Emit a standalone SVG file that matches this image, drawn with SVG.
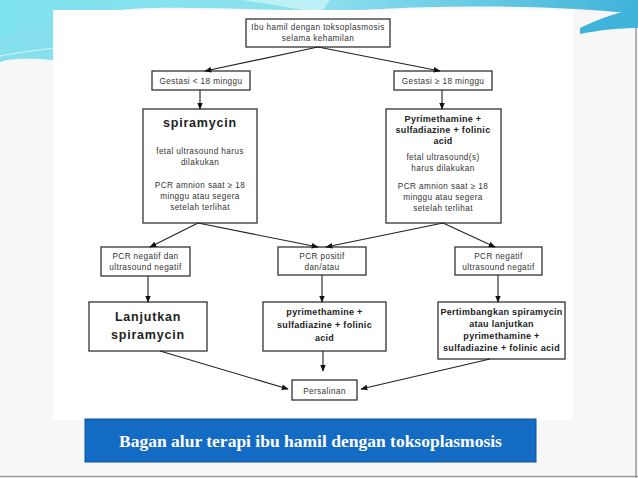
<svg xmlns="http://www.w3.org/2000/svg" width="638" height="478" viewBox="0 0 638 478">
<defs>
<linearGradient id="sw" x1="0" y1="0" x2="1" y2="0">
<stop offset="0" stop-color="#7fe3ef"/>
<stop offset="0.5" stop-color="#8ee0ee"/>
<stop offset="1" stop-color="#3fb3d9"/>
</linearGradient>
<marker id="ah" viewBox="0 0 10 10" refX="9" refY="5" markerWidth="7" markerHeight="7" orient="auto-start-reverse" markerUnits="userSpaceOnUse">
<path d="M0,1 L10,5 L0,9 z" fill="#111"/>
</marker>
<style>
.box{fill:#fff;stroke:#333;stroke-width:1.3}
.t{font-family:"Liberation Sans",Arial,sans-serif;font-size:8.2px;fill:#333;text-anchor:middle;letter-spacing:0.4px}
.b{font-family:"Liberation Sans",Arial,sans-serif;font-size:9px;font-weight:bold;fill:#222;text-anchor:middle;letter-spacing:0.3px}
.bb{font-family:"Liberation Sans",Arial,sans-serif;font-size:12.5px;font-weight:bold;fill:#222;text-anchor:middle;letter-spacing:0.8px}
.c line{stroke:#222;stroke-width:1.1;fill:none;marker-end:url(#ah)}
</style>
</defs>
<rect width="638" height="478" fill="#f7f7f7"/>
<line x1="636" y1="0" x2="636" y2="478" stroke="#9a9a9a" stroke-width="1.5"/>
<line x1="0" y1="476.5" x2="638" y2="476.5" stroke="#9a9a9a" stroke-width="1.5"/>
<path d="M0,0 H638 V14 C560,6 470,4 360,10 C300,13 220,6 150,8 C90,10 40,25 0,40 Z" fill="url(#sw)"/>
<path d="M240,0 C270,4 295,8 320,14 L330,0 Z" fill="#c8f2f7" opacity="0.8"/>
<path d="M0,40 C20,30 45,20 60,18 L53,60 C30,58 10,58 0,62 Z" fill="#86dfec"/>
<path d="M0,56 C20,52 40,50 55,48" stroke="#d8f6fa" stroke-width="1" fill="none"/>
<path d="M580,28 C600,18 620,12 638,8 V28 C620,28 600,30 580,34 Z" fill="#3fb3d9"/>
<rect x="53" y="10" width="520" height="410" fill="#fff"/>
<g id="top"><rect class="box" x="246" y="19" width="144" height="28"/><text class="t" x="318" y="30">Ibu hamil dengan  toksoplasmosis</text><text class="t" x="318" y="41">selama kehamilan</text></g>
<g id="gl"><rect class="box" x="152" y="71" width="98" height="19"/><text class="t" x="201" y="83.5">Gestasi &lt; 18 minggu</text></g>
<g id="gr"><rect class="box" x="394" y="71" width="98" height="19"/><text class="t" x="443" y="83.5">Gestasi ≥ 18 minggu</text></g>
<g id="spira"><rect class="box" x="143" y="109" width="114" height="114"/>
<text class="bb" x="200" y="127">spiramycin</text>
<text class="t" x="200" y="154">fetal ultrasound harus</text>
<text class="t" x="200" y="165">dilakukan</text>
<text class="t" x="200" y="188">PCR amnion  saat ≥ 18</text>
<text class="t" x="200" y="199">minggu atau segera</text>
<text class="t" x="200" y="210">setelah terlihat</text></g>
<g id="pyri"><rect class="box" x="386" y="109" width="115" height="114"/>
<text class="b" x="443" y="122">Pyrimethamine  +</text>
<text class="b" x="443" y="133">sulfadiazine + folinic</text>
<text class="b" x="443" y="144">acid</text>
<text class="t" x="443" y="160">fetal ultrasound(s)</text>
<text class="t" x="443" y="171">harus dilakukan</text>
<text class="t" x="443" y="189">PCR amnion saat ≥ 18</text>
<text class="t" x="443" y="200">minggu atau segera</text>
<text class="t" x="443" y="211">setelah terlihat</text></g>
<g id="neg1"><rect class="box" x="101" y="247" width="89" height="29"/><text class="t" x="145.5" y="258.5" font-size="7.6">PCR negatif dan</text><text class="t" x="145.5" y="270" font-size="7.6">ultrasound negatif</text></g>
<g id="pos"><rect class="box" x="278" y="247" width="88" height="28"/><text class="t" x="322" y="258.5">PCR positif</text><text class="t" x="322" y="269.5">dan/atau</text></g>
<g id="neg2"><rect class="box" x="455" y="247" width="87" height="28"/><text class="t" x="498.5" y="258.5">PCR negatif</text><text class="t" x="498.5" y="269.5">ultrasound negatif</text></g>
<g id="lanj"><rect class="box" x="89" y="302" width="118" height="49"/><text class="bb" x="148" y="321">Lanjutkan</text><text class="bb" x="148" y="339">spiramycin</text></g>
<g id="pyri2"><rect class="box" x="263" y="302" width="123" height="49"/><text class="b" x="324.5" y="315">pyrimethamine +</text><text class="b" x="324.5" y="328">sulfadiazine   + folinic</text><text class="b" x="324.5" y="341">acid</text></g>
<g id="pert"><rect class="box" x="438" y="302" width="127" height="57"/><text class="b" x="501.5" y="315" font-size="8">Pertimbangkan  spiramycin</text><text class="b" x="501.5" y="327" font-size="8">atau lanjutkan</text><text class="b" x="501.5" y="339" font-size="8">pyrimethamine  +</text><text class="b" x="501.5" y="351" font-size="8">sulfadiazine + folinic acid</text></g>
<g id="pers"><rect class="box" x="292" y="380" width="65" height="20"/><text class="t" x="324.5" y="393.5">Persalinan</text></g>
<g id="connectors" class="c">
<line x1="318" y1="47" x2="205" y2="71"/>
<line x1="318" y1="47" x2="440" y2="71"/>
<line x1="200" y1="90" x2="200" y2="109"/>
<line x1="442" y1="90" x2="442" y2="109"/>
<line x1="198" y1="223" x2="150" y2="247"/>
<line x1="198" y1="223" x2="318" y2="247"/>
<line x1="443" y1="223" x2="326" y2="247"/>
<line x1="443" y1="223" x2="495" y2="247"/>
<line x1="148" y1="276" x2="148" y2="302"/>
<line x1="322" y1="275" x2="322" y2="302"/>
<line x1="498" y1="275" x2="498" y2="302"/>
<line x1="160" y1="351" x2="288" y2="389"/>
<line x1="323" y1="351" x2="323" y2="371"/>
<line x1="490" y1="359" x2="361" y2="389"/>
</g>
<g id="caption"><rect x="85" y="419" width="451" height="43" fill="#146bc4" stroke="#0e4f95" stroke-width="1"/><text x="310.5" y="446.5" font-family="'Liberation Serif','DejaVu Serif',serif" font-size="17.5" font-weight="bold" fill="#fff" text-anchor="middle">Bagan alur terapi ibu hamil dengan toksoplasmosis</text></g>
</svg>
